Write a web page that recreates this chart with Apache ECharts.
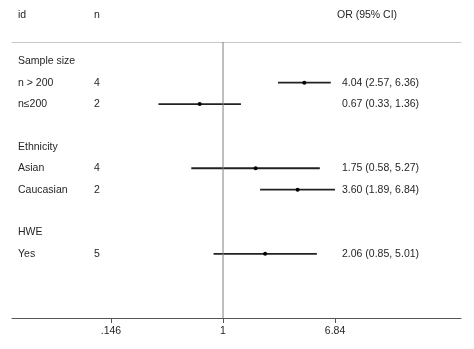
<!DOCTYPE html>
<html>
<head>
<meta charset="utf-8">
<script src="https://cdn.jsdelivr.net/npm/echarts@6/dist/echarts.min.js"></script>
<style>
  html, body { margin: 0; padding: 0; background: #fff; }
  #chart { width: 474px; height: 349px; }
</style>
</head>
<body>
<div id="chart"></div>
<script>
// Forest plot rows: subgroup headings and their studies
const rowLabels = ['Sample size', 'n > 200', 'n\u2264200', '', 'Ethnicity', 'Asian', 'Caucasian', '', 'HWE', 'Yes'];
const nValues   = ['', '4', '2', '', '', '4', '2', '', '', '5'];
const orValues  = [null, 4.04, 0.67, null, null, 1.75, 3.60, null, null, 2.06];
const ciLow     = [null, 2.57, 0.33, null, null, 0.58, 1.89, null, null, 0.85];
const ciHigh    = [null, 6.36, 1.36, null, null, 5.27, 6.84, null, null, 5.01];

// Axis ticks on the odds-ratio scale
const xTickValues = [0.146, 1, 6.84];
const xTickLabels = ['.146', '1', '6.84'];

const FONT = '"Liberation Sans", Arial, sans-serif';
const TEXT = '#262626';
const FS = 10.5;

const chart = echarts.init(document.getElementById('chart'), null, { renderer: 'canvas' });

function fmt(v) { return v.toFixed(2); }

function tickLabel(v) {
  let best = 0, bd = Infinity;
  xTickValues.forEach((t, k) => {
    const d = Math.abs(Math.log(v) - Math.log(t));
    if (d < bd) { bd = d; best = k; }
  });
  return bd < 1e-6 ? xTickLabels[best] : '';
}

const xMin = 0.0267, xMax = 59.5;

chart.setOption({
  backgroundColor: '#fff',
  animation: false,
  grid: { left: 12, right: 13, top: 42, bottom: 31 },
  xAxis: [
    {
      type: 'log',
      logBase: 10,
      min: xMin,
      max: xMax,
      position: 'bottom',
      axisLine: { show: true, onZero: false, lineStyle: { color: '#555', width: 1 } },
      axisTick: { show: true, length: 5, lineStyle: { color: '#555' }, customValues: xTickValues },
      axisLabel: {
        show: true, margin: 8, color: TEXT, fontSize: FS, fontFamily: FONT,
        customValues: xTickValues, formatter: tickLabel
      },
      splitLine: { show: false },
      minorTick: { show: false }
    },
    {
      type: 'log',
      logBase: 10,
      min: xMin,
      max: xMax,
      position: 'top',
      axisLine: { show: true, onZero: false, lineStyle: { color: '#c8c8c8', width: 1 } },
      axisTick: { show: false },
      axisLabel: { show: false },
      splitLine: { show: false }
    }
  ],
  yAxis: {
    type: 'value',
    inverse: true,
    min: -0.9,
    max: 12,
    show: false
  },
  graphic: [
    { type: 'text', left: 18, top: 10, style: { text: 'id', fill: TEXT, font: FS + 'px ' + FONT } },
    { type: 'text', left: 94, top: 10, style: { text: 'n', fill: TEXT, font: FS + 'px ' + FONT } },
    { type: 'text', left: 337, top: 10, style: { text: 'OR (95% CI)', fill: TEXT, font: FS + 'px ' + FONT } }
  ],
  series: [
    {
      // line of no effect at OR = 1
      type: 'line',
      xAxisIndex: 0,
      data: [[1, -0.9], [1, 12]],
      symbol: 'none',
      lineStyle: { color: '#808080', width: 1 },
      silent: true
    },
    {
      type: 'custom',
      xAxisIndex: 0,
      encode: { x: 0, y: 1 },
      data: rowLabels.map((_, i) => [orValues[i] == null ? 1 : orValues[i], i]),
      renderItem: function (params, api) {
        const i = params.dataIndex;
        const y = api.coord([1, i])[1];
        const children = [];
        if (rowLabels[i]) {
          children.push({
            type: 'text',
            style: { text: rowLabels[i], x: 18, y: y, fill: TEXT, font: FS + 'px ' + FONT, verticalAlign: 'middle', align: 'left' }
          });
        }
        if (nValues[i]) {
          children.push({
            type: 'text',
            style: { text: nValues[i], x: 94, y: y, fill: TEXT, font: FS + 'px ' + FONT, verticalAlign: 'middle', align: 'left' }
          });
        }
        if (orValues[i] != null) {
          const lo = api.coord([ciLow[i], i]);
          const hi = api.coord([ciHigh[i], i]);
          const pt = api.coord([orValues[i], i]);
          children.push({
            type: 'line',
            shape: { x1: lo[0], y1: y, x2: hi[0], y2: y },
            style: { stroke: '#222', lineWidth: 1.8 }
          });
          children.push({
            type: 'circle',
            shape: { cx: pt[0], cy: y, r: 2 },
            style: { fill: '#000' }
          });
          children.push({
            type: 'text',
            style: {
              text: fmt(orValues[i]) + ' (' + fmt(ciLow[i]) + ', ' + fmt(ciHigh[i]) + ')',
              x: 342, y: y, fill: TEXT, font: FS + 'px ' + FONT, verticalAlign: 'middle', align: 'left'
            }
          });
        }
        return { type: 'group', children: children };
      }
    }
  ]
});
</script>
</body>
</html>
